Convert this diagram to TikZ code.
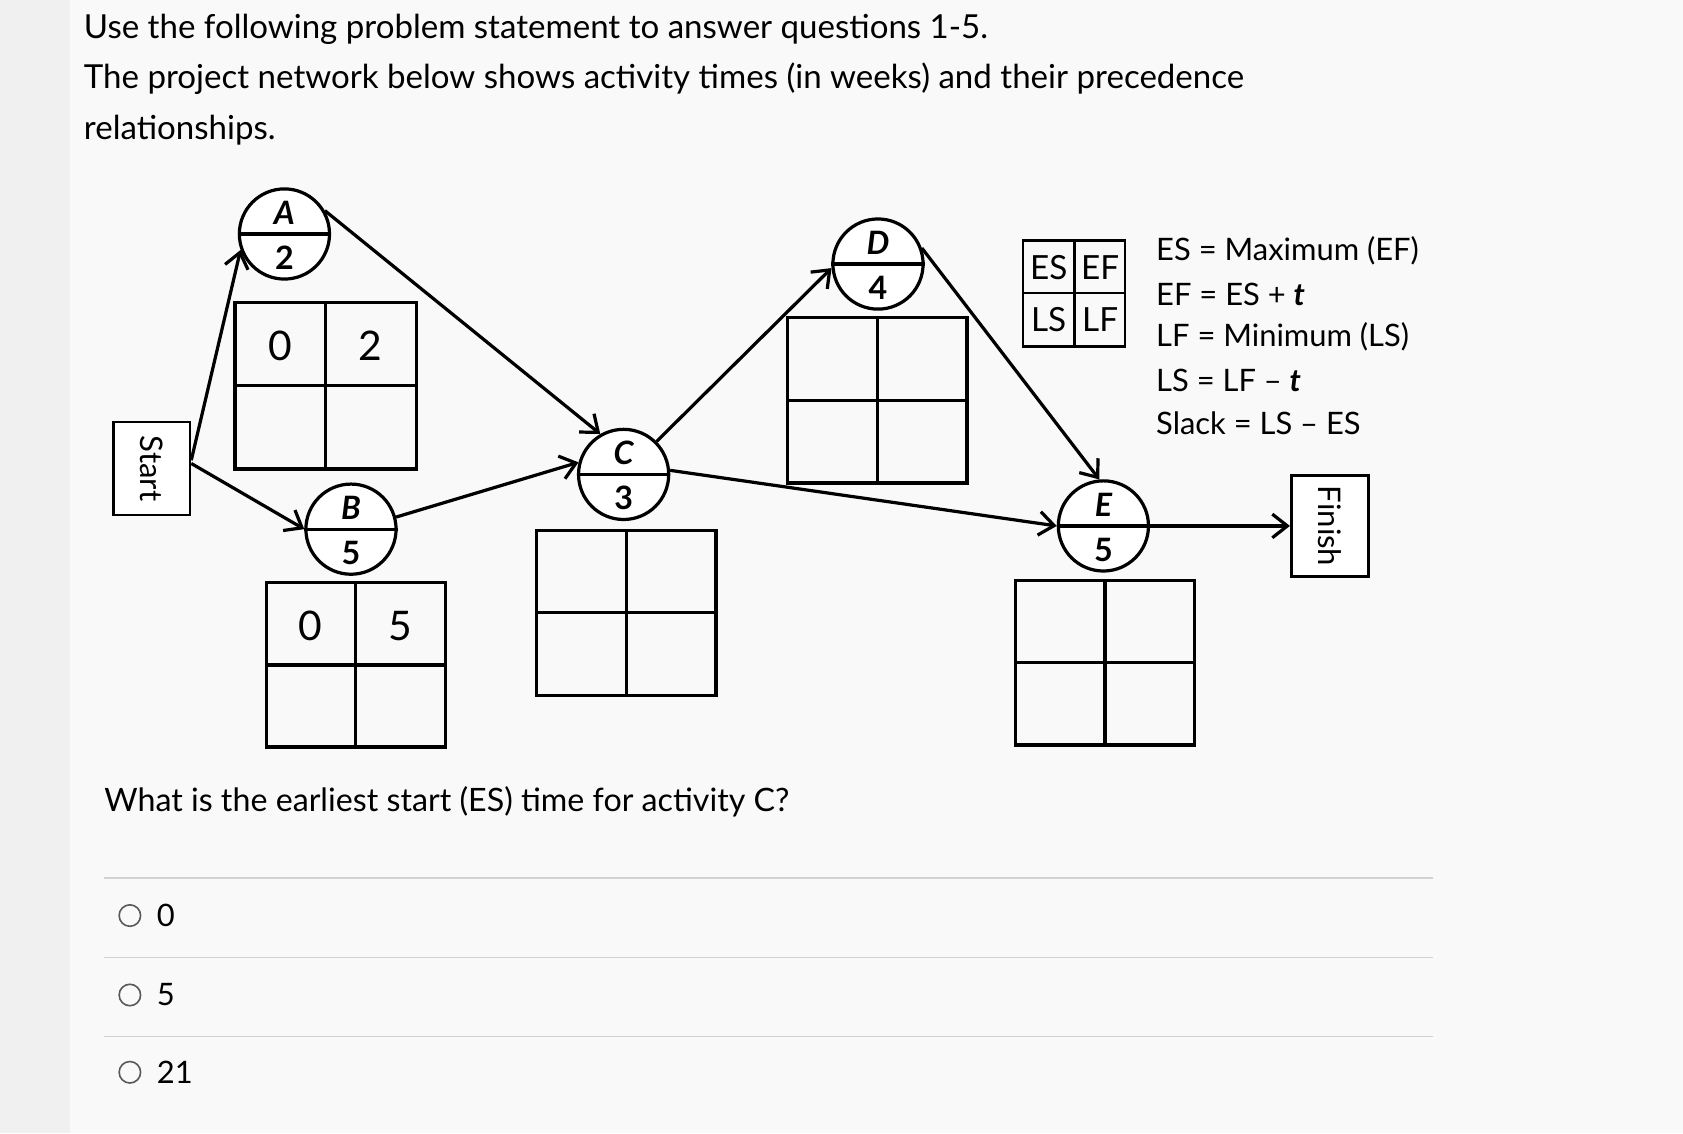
\documentclass[tikz,border=0pt]{standalone}
\usepackage{fontspec}
\setmainfont{Lato}
\usetikzlibrary{arrows.meta}
\begin{document}
\begin{tikzpicture}[x=1pt,y=-1pt,
  ln/.style={line width=3pt},
  arr/.style={ln,-{Straight Barb[length=14pt,width=22pt,line width=3pt]}},
  act/.style={circle,draw,line width=3pt,minimum size=84pt,inner sep=0pt},
  grid/.style={draw,line width=3pt},
  txt/.style={font=\fontsize{30.8}{36}\selectfont,anchor=west,inner sep=0pt},
  lab/.style={font=\fontsize{30}{34}\selectfont\bfseries\itshape,inner sep=0pt},
  big/.style={font=\fontsize{38}{42}\selectfont,inner sep=0pt},
  frm/.style={font=\fontsize{28.8}{32}\selectfont,anchor=west,inner sep=0pt},
  endbox/.style={draw,line width=2.4pt,fill=white,inner sep=0pt,font=\fontsize{28}{32}\selectfont}]
\useasboundingbox (0,0) rectangle (1568,1056);
\fill[gray!12] (0,0) rectangle (1568,1056);
\fill[gray!5] (65,0) rectangle (1568,1056);
\node[txt] (t1) at (78,27) {Use the following problem statement to answer questions 1-5.};
\node[txt] (t2) at (78,73) {The project network below shows activity times (in weeks) and their precedence};
\node[txt] (t3) at (78,121) {relationships.};
% start / finish
\node[endbox,minimum width=71pt,minimum height=87pt] (start) at (141.5,436.5) {};
\node[rotate=-90,font=\fontsize{29}{32}\selectfont] (startt) at (start) {Start};
\node[endbox,minimum width=72pt,minimum height=94pt] (finish) at (1239,490) {};
\node[rotate=-90,font=\fontsize{29}{32}\selectfont] (finisht) at (finish) {Finish};
% activities
\foreach \n/\x/\y/\t in {A/265/218/2,B/327/493/5,C/581/442/3,D/818/246/4,E/1028/490/5}{
  \node[act,fill=white] (\n) at (\x,\y) {};
  \draw[ln] (\n.west) -- (\n.east);
  \node[lab] (\n l) at (\x,\y-20) {\n};
  \node[lab,font=\fontsize{30}{34}\selectfont\bfseries] (\n t) at (\x,\y+22) {\t};
}
% grids
\foreach \g/\xa/\ya/\xb/\yb in {gA/219/282/388/437,gB/248/543/415/696,gC/500/494/667/648,gD/734/296/901/450,gE/946/541/1113/694}{
  \draw[grid] (\xa,\ya) rectangle (\xb,\yb);
  \draw[grid] ({(\xa+\xb)/2},\ya) -- ({(\xa+\xb)/2},\yb);
  \draw[grid] (\xa,{(\ya+\yb)/2}) -- (\xb,{(\ya+\yb)/2});
}
\node[big] (a0) at (261,322) {0};
\node[big] (a2) at (345,322) {2};
\node[big] (b0) at (289,583) {0};
\node[big] (b5) at (373,583) {5};
% legend
\draw[grid,line width=2.4pt] (953,224) rectangle (1048,323);
\draw[grid,line width=2.4pt] (1001,224) -- (1001,323) (953,273) -- (1048,273);
\node[frm,anchor=center,font=\fontsize{31}{34}\selectfont] (es) at (977,249) {ES};
\node[frm,anchor=center,font=\fontsize{31}{34}\selectfont] (ef) at (1025,249) {EF};
\node[frm,anchor=center,font=\fontsize{31}{34}\selectfont] (ls) at (977,298) {LS};
\node[frm,anchor=center,font=\fontsize{31}{34}\selectfont] (lf) at (1025,298) {LF};
\node[frm] (f1) at (1077,234) {ES = Maximum (EF)};
\node[frm] (f2) at (1077,274) {EF = ES + \textbf{\textit{t}}};
\node[frm] (f3) at (1077,314) {LF = Minimum (LS)};
\node[frm] (f4) at (1077,354) {LS = LF -- \textbf{\textit{t}}};
\node[frm] (f5) at (1077,394) {Slack = LS -- ES};
% arrows
\draw[arr] (start.north east) ++(0,37) -- (A.200);
\draw[arr] (start.north east) ++(0,40) -- (B.west);
\draw[arr] (A.30) -- (C.120);
\draw[arr] (B.15) -- (C.165);
\draw[arr] (C.45) -- (D.185);
\draw[arr] (C.5) -- (E.west);
\draw[arr] (D.20) -- (E.95);
\draw[arr] (E.east) -- (finish.west);
% question
\node[txt,font=\fontsize{30}{36}\selectfont] (q) at (97,747) {What is the earliest start (ES) time for activity C?};
\foreach \y in {818,892,966}{\draw[gray!35,line width=1pt] (97,\y) -- (1335,\y);}
\foreach \y/\v/\nm in {853/0/o1,927/5/o2,999/21/o3}{
  \draw[gray!70!black,line width=1.5pt] (121,\y) circle[radius=10pt];
  \node[frm] (\nm) at (146,\y) {\v};
}
\end{tikzpicture}
\end{document}
